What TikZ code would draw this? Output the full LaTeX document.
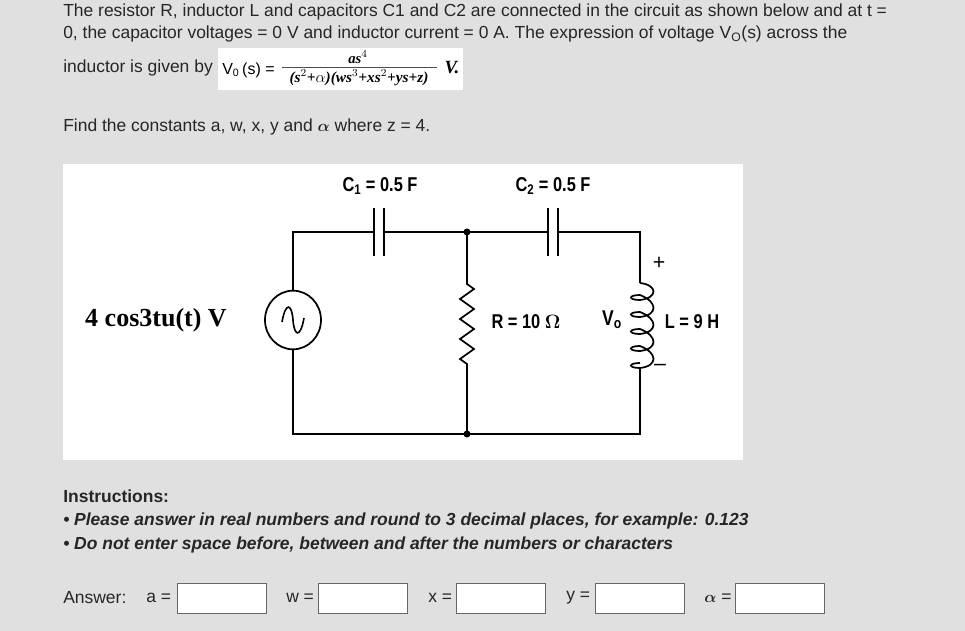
\documentclass[tikz,border=0pt]{standalone}
\usepackage{amsmath}
\usepackage{fontspec}
\setmainfont{Liberation Sans}
\newfontfamily\serifb{Liberation Serif}
\newfontfamily\narrowb[FakeStretch=0.82]{Liberation Sans}
\usetikzlibrary{shapes.geometric}
\begin{document}
\begin{tikzpicture}[x=0.75pt,y=-0.75pt,
  txt/.style={anchor=west,inner sep=0,font=\fontsize{13.1}{15}\selectfont,text=black!85},
  lbl/.style={inner sep=0,font=\narrowb\bfseries\fontsize{15}{16}\selectfont},
  wire/.style={line width=1.3pt},
  ansbox/.style={draw=black!60,fill=white,minimum width=66.75pt,minimum height=22.5pt,inner sep=0}]
\fill[black!12] (0,0) rectangle (965,631);
\useasboundingbox (0,0) rectangle (965,631);
\node[txt] (l1) at (63,12) {The resistor R, inductor L and capacitors C1 and C2 are connected in the circuit as shown below and at t =};
\node[txt] (l2) at (63,34) {0, the capacitor voltages = 0 V and inductor current = 0 A. The expression of voltage V\textsubscript{O}(s) across the};
\node[txt] (l3) at (63,68) {inductor is given by};
\fill[white] (218,48) rectangle (463,90);
\node[inner sep=0,anchor=west,font=\fontsize{12}{13}\selectfont] (vo) at (222,70) {V\textsubscript{0}\,(s) =};
\node[inner sep=0,font=\serifb\itshape\bfseries\fontsize{11}{12}\selectfont] (num) at (358,57) {as$^{4}$};
\draw[black!70] (282,67) -- (437,67);
\node[inner sep=0,font=\serifb\itshape\bfseries\fontsize{11.5}{12}\selectfont] (den) at (359,78) {(s$^2$+$\alpha$)(ws$^3$+xs$^2$+ys+z)};
\node[inner sep=0,font=\serifb\itshape\bfseries\fontsize{14}{15}\selectfont] (vv) at (452,68) {V.};
\node[txt] (l4) at (63,127) {Find the constants a, w, x, y and $\boldsymbol\alpha$ where z = 4.};
% circuit panel
\fill[white] (63,164) rectangle (743,460);
\coordinate (tl) at (293,232); \coordinate (tm) at (467,232); \coordinate (tr) at (640,232);
\coordinate (bl) at (293,434); \coordinate (bm) at (467,434); \coordinate (br) at (640,434);
\node[draw,wire,ellipse,minimum width=42pt,minimum height=44pt,inner sep=0] (src) at (293,320) {};
\draw[line width=1.2pt] (282,322) .. controls (286,300) and (292,305) .. (293,320) .. controls (294,335) and (300,340) .. (304,318);
\draw[wire] (src.north) -- (tl) -- (374,232);
\draw[wire] (374,208) -- (374,256) (384,208) -- (384,256);
\draw[wire] (384,232) -- (tm) -- (548,232);
\draw[wire] (548,208) -- (548,256) (558,208) -- (558,256);
\draw[wire] (558,232) -- (tr) -- (640,283);
\draw[wire] (src.south) -- (bl) -- (br) -- (640,370);
\draw[wire] (tm) -- (467,284) -- (474,289) -- (460,299) -- (474,309) -- (460,319) -- (474,329) -- (460,339) -- (474,349) -- (460,359) -- (467,364) -- (bm);
\draw[wire] (640,283) \foreach \i in {0,...,4} { .. controls (658,283+\i*17+2) and (658,283+\i*17+15) .. (640,283+\i*17+17) .. controls (628,283+\i*17+17) and (628,283+\i*17+12) .. (640,283+\i*17+12)};
\draw[wire] (640,368) -- (640,370);
\fill (tm) circle (3.5); \fill (bm) circle (3.5);
\node[lbl] (c1) at (380,186) {C\textsubscript{1} = 0.5 F};
\node[lbl] (c2) at (553,186) {C\textsubscript{2} = 0.5 F};
\node[inner sep=0,font=\serifb\bfseries\fontsize{19.5}{21}\selectfont] (vs) at (156,320) {4 cos3tu(t) V};
\node[lbl] (rl) at (526,322) {R = 10 $\boldsymbol\Omega$};
\node[lbl,font=\narrowb\bfseries\fontsize{16}{17}\selectfont] (vol) at (612,320) {V\textsubscript{o}};
\node[lbl] (ll) at (692,322) {L = 9 H};
\node[lbl,font=\fontsize{16}{16}\selectfont] (pl) at (659,263) {+};
\node[lbl,font=\fontsize{16}{16}\selectfont] (mi) at (660,367) {--};
% instructions
\node[txt,font=\bfseries\fontsize{13.1}{15}\selectfont] (ins) at (63,496) {Instructions:};
\node[txt,font=\bfseries\itshape\fontsize{13.1}{15}\selectfont] (b1) at (63,521) {• Please answer in real numbers and round to 3 decimal places, for example: 0.123};
\node[txt,font=\bfseries\itshape\fontsize{13.1}{15}\selectfont] (b2) at (63,545) {• Do not enter space before, between and after the numbers or characters};
% answers
\node[txt] (ans) at (63,598) {Answer:};
\node[txt] (la) at (146,598) {a =}; \node[ansbox] (ba) at (222,598) {};
\node[txt] (lw) at (286,598) {w =}; \node[ansbox] (bw) at (363,598) {};
\node[txt] (lx) at (428,598) {x =}; \node[ansbox] (bx) at (501,598) {};
\node[txt] (ly) at (566,598) {y =}; \node[ansbox] (by) at (640,598) {};
\node[txt] (lal) at (704,598) {$\boldsymbol\alpha$ =}; \node[ansbox] (bal) at (780,598) {};
\end{tikzpicture}
\end{document}
